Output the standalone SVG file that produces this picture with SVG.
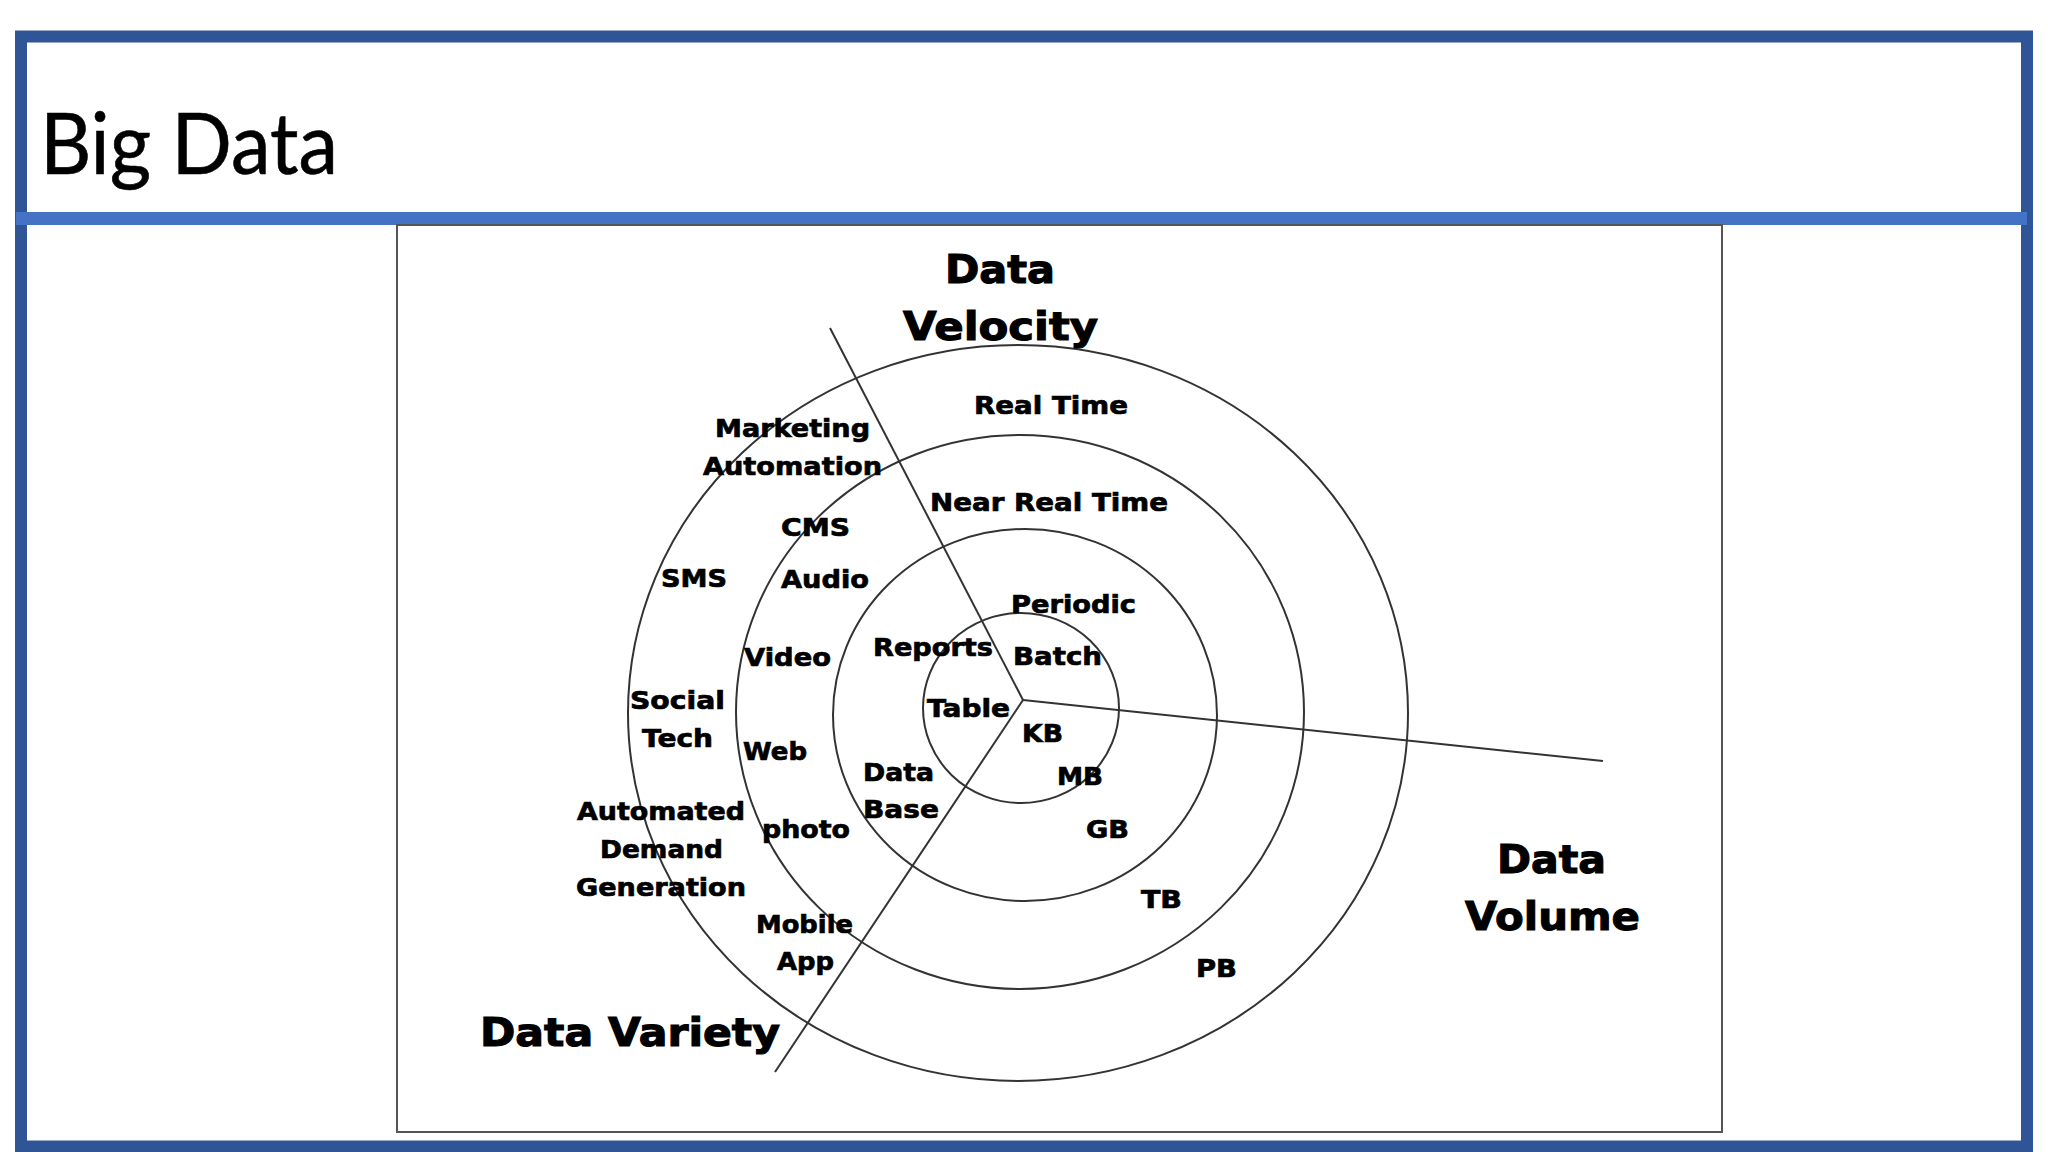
<svg xmlns="http://www.w3.org/2000/svg" width="2048" height="1152" viewBox="0 0 2048 1152">
<style>
.lbl{font-family:"DejaVu Sans","Liberation Sans",sans-serif;font-weight:bold;font-size:25px;fill:#000;stroke:#000;stroke-width:0.7px}
.axis{font-family:"DejaVu Sans","Liberation Sans",sans-serif;font-weight:bold;font-size:39px;fill:#000;stroke:#000;stroke-width:1.1px}
.ring{fill:none;stroke:#333;stroke-width:2}
.spoke{stroke:#333;stroke-width:2;fill:none}
</style>
<rect x="0" y="0" width="2048" height="1152" fill="#ffffff"/>
<g id="frame">
<rect x="21" y="36.5" width="2006" height="1110" fill="#ffffff" stroke="#2F5597" stroke-width="12"/>
<rect x="16" y="212" width="2011" height="13" fill="#4472C4"/>
<rect x="397" y="225" width="1325" height="907" fill="#ffffff" stroke="#555" stroke-width="2"/>
</g>
<g id="title"><text x="40" y="174" font-family="Lato,'Open Sans',sans-serif" font-size="85" fill="#000" stroke="#000" stroke-width="0.6" textLength="298" lengthAdjust="spacingAndGlyphs">Big Data</text></g>
<g id="rings">
<ellipse class="ring" cx="1018" cy="713" rx="390" ry="368"/>
<ellipse class="ring" cx="1020" cy="712" rx="284" ry="277"/>
<ellipse class="ring" cx="1025" cy="715" rx="192" ry="186"/>
<ellipse class="ring" cx="1021" cy="708" rx="98" ry="95"/>
</g>
<g id="connectors">
<line class="spoke" x1="830" y1="328" x2="1023" y2="700"/>
<line class="spoke" x1="1023" y1="700" x2="1603" y2="761"/>
<line class="spoke" x1="1023" y1="700" x2="775" y2="1072"/>
</g>
<g id="axis-velocity"><text class="axis" x="945" y="283" textLength="110" lengthAdjust="spacingAndGlyphs">Data</text><text class="axis" x="903" y="340" textLength="195" lengthAdjust="spacingAndGlyphs">Velocity</text></g>
<g id="axis-variety"><text class="axis" x="480" y="1046" textLength="300" lengthAdjust="spacingAndGlyphs">Data Variety</text></g>
<g id="axis-volume"><text class="axis" x="1497" y="873" textLength="109" lengthAdjust="spacingAndGlyphs">Data</text><text class="axis" x="1465" y="930" textLength="175" lengthAdjust="spacingAndGlyphs">Volume</text></g>
<g id="real-time"><text class="lbl" x="974" y="414" textLength="154" lengthAdjust="spacingAndGlyphs">Real Time</text></g>
<g id="marketing-automation"><text class="lbl" x="715" y="437" textLength="155" lengthAdjust="spacingAndGlyphs">Marketing</text><text class="lbl" x="703" y="475" textLength="179" lengthAdjust="spacingAndGlyphs">Automation</text></g>
<g id="near-real-time"><text class="lbl" x="930" y="511" textLength="238" lengthAdjust="spacingAndGlyphs">Near Real Time</text></g>
<g id="cms"><text class="lbl" x="781" y="536" textLength="69" lengthAdjust="spacingAndGlyphs">CMS</text></g>
<g id="sms"><text class="lbl" x="661" y="587" textLength="66" lengthAdjust="spacingAndGlyphs">SMS</text></g>
<g id="audio"><text class="lbl" x="781" y="588" textLength="88" lengthAdjust="spacingAndGlyphs">Audio</text></g>
<g id="periodic"><text class="lbl" x="1011" y="613" textLength="125" lengthAdjust="spacingAndGlyphs">Periodic</text></g>
<g id="reports"><text class="lbl" x="873" y="656" textLength="120" lengthAdjust="spacingAndGlyphs">Reports</text></g>
<g id="batch"><text class="lbl" x="1013" y="665" textLength="89" lengthAdjust="spacingAndGlyphs">Batch</text></g>
<g id="video"><text class="lbl" x="744" y="666" textLength="87" lengthAdjust="spacingAndGlyphs">Video</text></g>
<g id="table"><text class="lbl" x="927" y="717" textLength="83" lengthAdjust="spacingAndGlyphs">Table</text></g>
<g id="social-tech"><text class="lbl" x="630" y="709" textLength="95" lengthAdjust="spacingAndGlyphs">Social</text><text class="lbl" x="642" y="747" textLength="71" lengthAdjust="spacingAndGlyphs">Tech</text></g>
<g id="kb"><text class="lbl" x="1022" y="742" textLength="41" lengthAdjust="spacingAndGlyphs">KB</text></g>
<g id="web"><text class="lbl" x="743" y="760" textLength="64" lengthAdjust="spacingAndGlyphs">Web</text></g>
<g id="data-base"><text class="lbl" x="863" y="781" textLength="71" lengthAdjust="spacingAndGlyphs">Data</text><text class="lbl" x="863" y="818" textLength="76" lengthAdjust="spacingAndGlyphs">Base</text></g>
<g id="mb"><text class="lbl" x="1057" y="785" textLength="46" lengthAdjust="spacingAndGlyphs">MB</text></g>
<g id="automated-demand-generation"><text class="lbl" x="577" y="820" textLength="168" lengthAdjust="spacingAndGlyphs">Automated</text><text class="lbl" x="600" y="858" textLength="123" lengthAdjust="spacingAndGlyphs">Demand</text><text class="lbl" x="576" y="896" textLength="170" lengthAdjust="spacingAndGlyphs">Generation</text></g>
<g id="photo"><text class="lbl" x="762" y="838" textLength="88" lengthAdjust="spacingAndGlyphs">photo</text></g>
<g id="gb"><text class="lbl" x="1086" y="838" textLength="43" lengthAdjust="spacingAndGlyphs">GB</text></g>
<g id="tb"><text class="lbl" x="1141" y="908" textLength="41" lengthAdjust="spacingAndGlyphs">TB</text></g>
<g id="mobile-app"><text class="lbl" x="756" y="933" textLength="97" lengthAdjust="spacingAndGlyphs">Mobile</text><text class="lbl" x="777" y="970" textLength="57" lengthAdjust="spacingAndGlyphs">App</text></g>
<g id="pb"><text class="lbl" x="1196" y="977" textLength="41" lengthAdjust="spacingAndGlyphs">PB</text></g>
</svg>
